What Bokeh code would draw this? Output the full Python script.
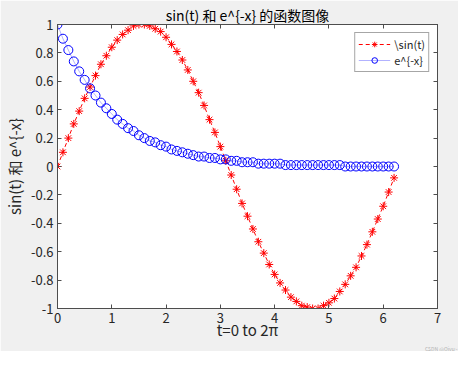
from bokeh.plotting import figure
from bokeh.models import (ColumnDataSource, LinearAxis, FixedTicker, Range1d,
                          Legend, LegendItem, Title)
from bokeh.embed import file_html
from bokeh.resources import INLINE

# ---- data ----
t = [0.0, 0.1, 0.2, 0.3, 0.4, 0.5, 0.6, 0.7, 0.8, 0.9,
     1.0, 1.1, 1.2, 1.3, 1.4, 1.5, 1.6, 1.7, 1.8, 1.9,
     2.0, 2.1, 2.2, 2.3, 2.4, 2.5, 2.6, 2.7, 2.8, 2.9,
     3.0, 3.1, 3.2, 3.3, 3.4, 3.5, 3.6, 3.7, 3.8, 3.9,
     4.0, 4.1, 4.2, 4.3, 4.4, 4.5, 4.6, 4.7, 4.8, 4.9,
     5.0, 5.1, 5.2, 5.3, 5.4, 5.5, 5.6, 5.7, 5.8, 5.9,
     6.0, 6.1, 6.2]
sin_t = [0.00, 0.10, 0.20, 0.30, 0.39, 0.48, 0.56, 0.64, 0.72, 0.78,
         0.84, 0.89, 0.93, 0.96, 0.99, 1.00, 1.00, 0.99, 0.97, 0.95,
         0.91, 0.86, 0.81, 0.75, 0.68, 0.60, 0.52, 0.43, 0.33, 0.24,
         0.14, 0.04, -0.06, -0.16, -0.26, -0.35, -0.44, -0.53, -0.61, -0.69,
         -0.76, -0.82, -0.87, -0.92, -0.95, -0.98, -0.99, -1.00, -1.00, -0.98,
         -0.96, -0.93, -0.88, -0.83, -0.77, -0.71, -0.63, -0.55, -0.46, -0.37,
         -0.28, -0.18, -0.08]
exp_x = [1.00, 0.90, 0.82, 0.74, 0.67, 0.61, 0.55, 0.50, 0.45, 0.41,
         0.37, 0.33, 0.30, 0.27, 0.25, 0.22, 0.20, 0.18, 0.17, 0.15,
         0.14, 0.12, 0.11, 0.10, 0.09, 0.08, 0.07, 0.07, 0.06, 0.06,
         0.05, 0.05, 0.04, 0.04, 0.03, 0.03, 0.03, 0.02, 0.02, 0.02,
         0.02, 0.02, 0.01, 0.01, 0.01, 0.01, 0.01, 0.01, 0.01, 0.01,
         0.01, 0.01, 0.01, 0.00, 0.00, 0.00, 0.00, 0.00, 0.00, 0.00,
         0.00, 0.00, 0.00]

x_ticks = [0, 1, 2, 3, 4, 5, 6, 7]
x_tick_labels = ["0", "1", "2", "3", "4", "5", "6", "7"]
y_ticks = [-1, -0.8, -0.6, -0.4, -0.2, 0, 0.2, 0.4, 0.6, 0.8, 1]
y_tick_labels = ["-1", "-0.8", "-0.6", "-0.4", "-0.2", "0", "0.2", "0.4", "0.6", "0.8", "1"]

title_text = "sin(t) 和 e^{-x} 的函数图像"
x_label = "t=0 to 2π"
y_label = "sin(t) 和 e^{-x}"
legend_labels = ["\\sin(t)", "e^{-x}"]
watermark = "CSDN @Qiyu~"

FONT = "Noto Sans CJK SC"
AX = "#4d4d4d"
TXT = "#262626"

src = ColumnDataSource(dict(t=t, s=sin_t, e=exp_x))

p = figure(width=458, height=351, x_range=Range1d(0, 7), y_range=Range1d(-1, 1),
           output_backend="svg", toolbar_location=None,
           min_border_left=56, min_border_right=21, min_border_top=24,
           min_border_bottom=30,
           background_fill_color="white", border_fill_color="#f0f0f0",
           title=title_text, x_axis_type=None, y_axis_type=None)
p.grid.visible = False
p.outline_line_color = AX
p.outline_line_width = 1

p.title.align = "center"
p.title.text_font = FONT
p.title.text_font_size = "14px"
p.title.text_font_style = "normal"
p.title.text_color = "#000000"
p.title.standoff = 0


def style(ax, labels=True):
    ax.axis_line_color = AX
    ax.major_tick_line_color = AX
    ax.major_tick_in = 4
    ax.major_tick_out = 0
    ax.minor_tick_line_color = None
    if labels:
        ax.major_label_text_font = FONT
        ax.major_label_text_font_size = "13px"
        ax.major_label_text_color = TXT
        ax.axis_label_text_font = FONT
        ax.axis_label_text_font_size = "15px"
        ax.axis_label_text_font_style = "normal"
        ax.axis_label_text_color = TXT
    else:
        ax.major_label_text_color = None
        ax.major_label_text_font_size = "1px"
        ax.major_label_standoff = 0


xb = LinearAxis(ticker=FixedTicker(ticks=x_ticks), axis_label=x_label,
                major_label_overrides={k: v for k, v in zip(x_ticks, x_tick_labels)})
yl = LinearAxis(ticker=FixedTicker(ticks=y_ticks), axis_label=y_label,
                major_label_overrides={k: v for k, v in zip(y_ticks, y_tick_labels)})
xt = LinearAxis(ticker=FixedTicker(ticks=x_ticks))
yr = LinearAxis(ticker=FixedTicker(ticks=y_ticks))
style(xb)
style(yl)
style(xt, False)
style(yr, False)
xb.major_label_standoff = 4
xb.axis_label_standoff = -7
yl.major_label_standoff = 4
yl.axis_label_standoff = 3
p.add_layout(xb, "below")
p.add_layout(yl, "left")
p.add_layout(xt, "above")
p.add_layout(yr, "right")

p.add_layout(Title(text=watermark, align="right", text_font=FONT, text_font_size="5px",
                   text_font_style="normal", text_color="#b0b0b0", standoff=0,
                   offset=-20), "below")

r_sl = p.line("t", "s", source=src, line_color="#ff0000", line_width=1, line_dash="4 3")
r_sm = p.scatter("t", "s", source=src, marker="asterisk", size=8,
                 line_color="#ff0000", line_width=1)
r_el = p.line("t", "e", source=src, line_color="#0000ff", line_width=1, line_alpha=0.3)
r_em = p.scatter("t", "e", source=src, marker="circle", size=9,
                 line_color="#0000ff", fill_color=None, line_width=1)

legend = Legend(items=[LegendItem(label=legend_labels[0], renderers=[r_sl, r_sm]),
                       LegendItem(label=legend_labels[1], renderers=[r_el, r_em])],
                location="top_right")
legend.margin = 8
legend.padding = 3
legend.spacing = 0
legend.glyph_width = 32
legend.glyph_height = 14
legend.label_height = 14
legend.label_standoff = 4
legend.label_text_font = FONT
legend.label_text_font_size = "11px"
legend.label_text_color = TXT
legend.border_line_color = AX
legend.border_line_width = 1
legend.background_fill_color = "white"
legend.background_fill_alpha = 1
p.add_layout(legend, "center")

open("out.html", "w").write(file_html(p, INLINE))
